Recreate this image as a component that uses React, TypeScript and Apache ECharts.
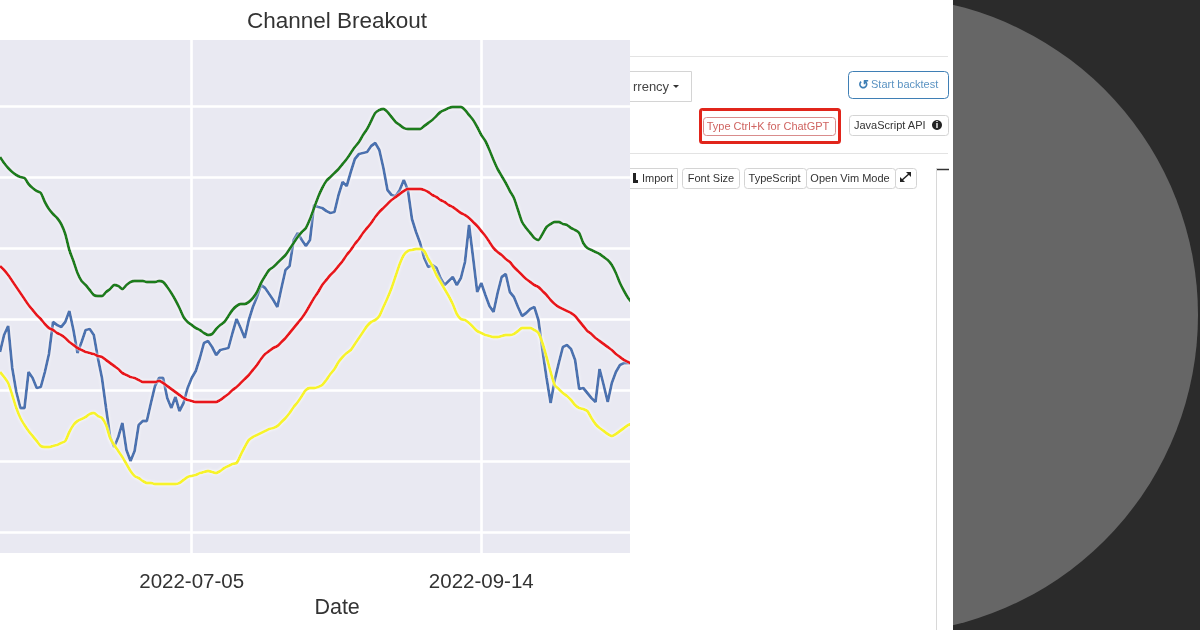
import React, { useEffect, useRef } from "react";
import * as echarts from "echarts";

const TITLE = "Channel Breakout";
const X_NAME = "Date";
const START_DATE = "2022-05-19";
const TICK_DATES = ["2022-07-05", "2022-09-14"];
const DAY_COUNT = 156;

const upperBand = [
  446, 440, 435, 431, 428, 426, 425, 419, 415, 412,
  410, 401, 394, 389, 385, 379, 369, 353, 342, 330,
  322, 318, 313, 308, 307, 307, 311, 314, 318, 317,
  314, 318, 321, 322, 322, 322, 321, 321, 321, 322,
  321, 316, 310, 303, 295, 286, 281, 278, 275, 273,
  270, 268, 269, 274, 278, 281, 287, 293, 297, 299,
  299, 301, 305, 311, 320, 327, 333, 336, 340, 344,
  348, 354, 360, 366, 371, 375, 384, 395, 406, 415,
  422, 426, 430, 434, 439, 444, 450, 456, 461, 468,
  474, 482, 490, 493, 494, 491, 486, 481, 478, 475,
  474, 474, 474, 474, 477, 480, 483, 487, 491, 493,
  495, 496, 496, 496, 493, 488, 483, 476, 468, 462,
  453, 443, 434, 427, 420, 412, 405, 393, 381, 375,
  370, 365, 363, 369, 376, 379, 381, 381, 379, 378,
  375, 373, 370, 360, 355, 353, 351, 349, 346, 343,
  338, 330, 320, 312, 305, 300,
];

const middleBand = [
  337, 333, 328, 322, 316, 310, 304, 298, 293, 288,
  284, 279, 275, 273, 270, 268, 265, 261, 258, 255,
  253, 251, 250, 249, 247, 246, 243, 240, 237, 234,
  230, 228, 226, 225, 223, 221, 221, 221, 221, 222,
  220, 217, 214, 211, 208, 205, 203, 202, 201, 201,
  201, 201, 201, 201, 203, 206, 209, 213, 216, 220,
  224, 228, 233, 238, 244, 249, 252, 255, 257, 261,
  265, 270, 275, 280, 285, 291, 298, 305, 311, 318,
  323, 328, 332, 337, 342, 348, 353, 359, 364, 370,
  375, 380, 386, 391, 395, 399, 403, 406, 409, 412,
  414, 414, 414, 414, 413, 411, 408, 406, 403, 401,
  398, 396, 393, 390, 388, 385, 381, 377, 372, 367,
  361, 355, 351, 348, 344, 341, 336, 332, 328, 324,
  321, 318, 316, 312, 308, 303, 299, 296, 294, 292,
  290, 287, 282, 277, 272, 269, 265, 262, 259, 256,
  253, 249, 246, 243, 241, 239,
];

const lowerBand = [
  231, 226, 220, 208, 195, 185, 178, 172, 167, 162,
  157, 156, 156, 157, 158, 160, 162, 171, 178, 182,
  184, 186, 189, 190, 187, 185, 178, 165, 158, 152,
  146, 139, 132, 127, 125, 122, 120, 120, 119, 119,
  119, 119, 119, 119, 120, 123, 126, 127, 128, 130,
  131, 132, 131, 130, 132, 135, 137, 139, 140, 148,
  156, 163, 166, 168, 170, 172, 174, 175, 177, 181,
  185, 190, 196, 201, 207, 213, 215, 215, 216, 218,
  223, 229, 234, 241, 246, 250, 253, 259, 265, 271,
  277, 281, 283, 287, 296, 305, 315, 327, 339, 348,
  352, 353, 354, 354, 352, 344, 337, 328, 321, 314,
  307, 299, 289, 284, 283, 280, 276, 272, 270, 268,
  267, 266, 266, 267, 268, 268, 269, 272, 275, 275,
  275, 273, 270, 260, 246, 231, 218, 214, 210, 207,
  203, 198, 195, 194, 192, 185, 179, 175, 172, 169,
  167, 169, 172, 175, 178, 179,
];

const closePrice = [
  251, 268, 277, 235, 211, 195, 195, 231, 225, 215,
  216, 231, 249, 281, 278, 276, 281, 292, 273, 250,
  261, 273, 274, 268, 245, 225, 195, 166, 156, 166,
  180, 153, 142, 152, 178, 182, 182, 200, 217, 225,
  225, 205, 195, 206, 192, 200, 215, 225, 232, 245,
  260, 262, 256, 248, 253, 254, 255, 270, 284, 275,
  265, 283, 296, 306, 318, 315, 309, 303, 296, 315,
  333, 337, 363, 370, 363, 357, 363, 398, 396, 395,
  392, 390, 391, 408, 421, 417, 431, 444, 449, 450,
  451, 457, 460, 453, 435, 413, 408, 407, 413, 423,
  413, 384, 371, 360, 345, 336, 338, 335, 325, 318,
  322, 326, 318, 325, 341, 378, 345, 311, 320, 308,
  297, 291, 310, 326, 329, 311, 306, 296, 287, 290,
  294, 296, 283, 253, 225, 200, 223, 240, 256, 258,
  254, 243, 214, 215, 210, 205, 201, 234, 218, 201,
  220, 231, 238, 240, 240, 240,
];

const dates: string[] = [];
for (let i = 0; i < DAY_COUNT; i++) {
  const d = new Date(START_DATE + "T00:00:00Z");
  d.setUTCDate(d.getUTCDate() + i);
  dates.push(d.toISOString().slice(0, 10));
}

const SANS = '"Liberation Sans", Arial, sans-serif';

function btn(x: number, y: number, w: number, h: number, stroke = "#d4d4d4", r = 3): any {
  return {
    type: "rect",
    shape: { x: x + 0.5, y: y + 0.5, width: w, height: h, r },
    style: { fill: "#ffffff", stroke, lineWidth: 1 },
    z: 11,
  };
}
function openBtn(xEnd: number, y: number, h: number): any {
  return {
    type: "polyline",
    shape: { points: [[630, y + 0.5], [xEnd + 0.5, y + 0.5], [xEnd + 0.5, y + h + 0.5], [630, y + h + 0.5]] },
    style: { fill: "none", stroke: "#d4d4d4", lineWidth: 1 },
    z: 11,
  };
}
function label(text: string, x: number, y: number, fill = "#333333", size = 11, align = "left", weight = "normal"): any {
  return {
    type: "text",
    x,
    y,
    style: { text, fill, fontSize: size, fontFamily: SANS, fontWeight: weight, align, verticalAlign: "middle" },
    z: 13,
  };
}
function hline(x1: number, y1: number, x2: number, y2: number, stroke = "#e3e3e3", lineWidth = 1): any {
  return { type: "line", shape: { x1, y1, x2, y2 }, style: { stroke, lineWidth }, z: 12 };
}

const panelElements: any[] = [
  { type: "rect", shape: { x: 0, y: 40, width: 640, height: 513 }, style: { fill: "#e9e9f2" }, z: -1 },
  { type: "rect", shape: { x: 953, y: 0, width: 247, height: 630 }, style: { fill: "#2b2b2b" }, z: 9 },
  {
    type: "sector",
    shape: { cx: 879, cy: 315, r: 319, r0: 0, startAngle: (-85 * Math.PI) / 180, endAngle: (85 * Math.PI) / 180 },
    style: { fill: "#666666" },
    z: 9,
  },
  { type: "rect", shape: { x: 630, y: 0, width: 323, height: 630 }, style: { fill: "#ffffff" }, z: 10 },
  hline(630, 56.5, 948, 56.5),
  hline(630, 153.5, 948, 153.5),
  openBtn(691, 71, 30),
  label("rrency", 633, 86, "#444444", 13),
  { type: "polygon", shape: { points: [[673, 85], [679, 85], [676, 88]] }, style: { fill: "#333333" }, z: 13 },
  btn(848, 71, 100, 27, "#3f7fb5", 4),
  label("↺", 858, 84, "#3f7fb5", 13, "left", "bold"),
  label("Start backtest", 871, 84, "#5b93c2", 11),
  { type: "rect", shape: { x: 700.5, y: 109.5, width: 139, height: 33, r: 2 }, style: { fill: "#ffffff", stroke: "#e1251b", lineWidth: 3 }, z: 11 },
  btn(703, 117, 132, 18, "#d98c8c", 3),
  label("Type Ctrl+K for ChatGPT", 768, 126, "#cf6461", 11, "center"),
  btn(849, 115, 99, 20),
  label("JavaScript API", 854, 125, "#333333", 11),
  { type: "circle", shape: { cx: 937, cy: 125, r: 5 }, style: { fill: "#222222" }, z: 13 },
  label("i", 937, 125, "#ffffff", 9, "center", "bold"),
  openBtn(677, 168, 20),
  { type: "polygon", shape: { points: [[633, 173], [636, 173], [636, 180], [638, 180], [638, 183], [633, 183]] }, style: { fill: "#222222" }, z: 13 },
  label("Import", 642, 178),
  btn(682, 168, 57, 20),
  label("Font Size", 711, 178, "#333333", 11, "center"),
  btn(744, 168, 62, 20),
  label("TypeScript", 774.5, 178, "#333333", 11, "center"),
  btn(806, 168, 89, 20),
  label("Open Vim Mode", 850, 178, "#333333", 11, "center"),
  btn(895, 168, 21, 20),
  hline(901, 181, 910, 173, "#222222", 1.5),
  { type: "polygon", shape: { points: [[900, 182], [905, 182], [900, 177]] }, style: { fill: "#222222" }, z: 13 },
  { type: "polygon", shape: { points: [[911, 172], [906, 172], [911, 177]] }, style: { fill: "#222222" }, z: 13 },
  hline(936.5, 168, 936.5, 630, "#d8d8d8"),
  hline(937, 169.5, 949, 169.5, "#333333", 1.5),
];

export default function App() {
  const ref = useRef<HTMLDivElement>(null);
  useEffect(() => {
    document.body.style.margin = "0";
    const chart = echarts.init(ref.current!, undefined, { renderer: "svg" });
    const isTick = (i: number) => TICK_DATES.includes(dates[i]);
    const line = (name: string, data: number[], color: string, smooth: number) => ({
      name,
      type: "line",
      data,
      showSymbol: false,
      smooth,
      lineStyle: { color, width: 2.8, shadowColor: "rgba(255,255,255,0.9)", shadowBlur: 3 },
      silent: true,
    });
    chart.setOption({
      animation: false,
      backgroundColor: "#ffffff",
      title: {
        text: TITLE,
        left: 332,
        top: 4,
        textAlign: "center",
        textStyle: { fontFamily: SANS, fontSize: 22.5, fontWeight: "normal", color: "#333333" },
      },
      grid: { left: -1, top: 35, width: 633.2, height: 568, containLabel: false },
      xAxis: {
        type: "category",
        data: dates,
        boundaryGap: false,
        offset: -33,
        axisLine: { show: false },
        axisTick: { show: false },
        axisLabel: {
          interval: (i: number) => isTick(i),
          margin: 0,
          fontFamily: SANS,
          fontSize: 20.5,
          color: "#333333",
        },
        splitLine: { show: true, interval: (i: number) => isTick(i), lineStyle: { color: "#ffffff", width: 2.6 } },
        name: X_NAME,
        nameLocation: "middle",
        nameGap: 24,
        nameTextStyle: { fontFamily: SANS, fontSize: 21.5, color: "#333333", padding: [0, 0, 0, 42] },
      },
      yAxis: {
        type: "value",
        min: 0,
        max: 568,
        interval: 71,
        axisLine: { show: false },
        axisTick: { show: false },
        axisLabel: { show: false },
        splitLine: { show: true, lineStyle: { color: "#ffffff", width: 2.6 } },
      },
      series: [
        line("Close", closePrice, "#4c72b0", 0),
        line("Upper", upperBand, "#1a7d1a", 0.25),
        line("Middle", middleBand, "#e8141c", 0.25),
        line("Lower", lowerBand, "#f7f32a", 0.25),
      ],
      graphic: { elements: panelElements },
    });
    return () => chart.dispose();
  }, []);
  return (
    <div
      ref={ref}
      style={{ position: "fixed", left: 0, top: 0, width: 1200, height: 630, overflow: "hidden", filter: "blur(0.5px)" }}
    />
  );
}
